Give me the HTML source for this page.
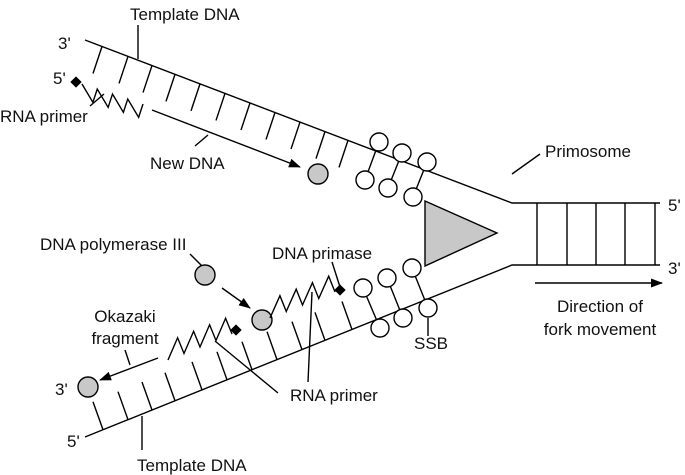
<!DOCTYPE html>
<html><head><meta charset="utf-8"><style>
body{margin:0;background:#fff}
svg{display:block}
text{font-family:"Liberation Sans",sans-serif;font-size:17px;fill:#111}
</style></head><body>
<svg id="s" width="685" height="475" viewBox="0 0 685 475" xmlns="http://www.w3.org/2000/svg">
<defs><marker id="ar" markerWidth="12" markerHeight="9" refX="11" refY="4.5" orient="auto" markerUnits="userSpaceOnUse"><path d="M0,0 L12,4.5 L0,9 z" fill="#000"/></marker></defs>
<g stroke="#000" stroke-width="1.4" fill="none" id="g">
<polyline points="85,40 512,203 660,203"/>
<polyline points="85,437 512,265 660,265"/>
<line x1="537" y1="203" x2="537" y2="265"/><line x1="567" y1="203" x2="567" y2="265"/><line x1="596" y1="203" x2="596" y2="265"/><line x1="625" y1="203" x2="625" y2="265"/><line x1="655" y1="203" x2="655" y2="265"/>
<polygon points="425,201 497,233 425,266" fill="#c8c8c8"/>
<line x1="138" y1="25" x2="138" y2="59"/>
<line x1="142" y1="416" x2="142" y2="450"/>
<line x1="152" y1="110" x2="300" y2="167" marker-end="url(#ar)"/>
<line x1="195" y1="146" x2="208" y2="135"/>
<line x1="90" y1="106" x2="104" y2="94"/>
<line x1="190" y1="254" x2="202" y2="266"/>
<line x1="222" y1="288" x2="250" y2="308" marker-end="url(#ar)"/>
<line x1="332" y1="262" x2="340" y2="287"/>
<line x1="158" y1="358" x2="100" y2="380" marker-end="url(#ar)"/>
<line x1="125" y1="350" x2="130" y2="365"/>
<line x1="215" y1="341" x2="278" y2="393"/>
<line x1="312" y1="292" x2="308" y2="382"/>
<line x1="428" y1="318" x2="428" y2="336"/>
<line x1="535" y1="283" x2="662" y2="283" marker-end="url(#ar)"/>
<line x1="512" y1="174" x2="540" y2="154"/>
<line x1="379" y1="142" x2="365" y2="180"/><line x1="402" y1="153" x2="388" y2="188"/><line x1="427" y1="162" x2="413" y2="197"/>
<line x1="363" y1="288" x2="380" y2="328"/><line x1="387" y1="278" x2="403" y2="318"/><line x1="412" y1="268" x2="428" y2="308"/>
<g fill="#fff">
<circle cx="379" cy="142" r="9"/><circle cx="402" cy="153" r="9"/><circle cx="427" cy="162" r="9"/>
<circle cx="365" cy="180" r="9"/><circle cx="388" cy="188" r="9"/><circle cx="413" cy="197" r="9"/>
<circle cx="363" cy="288" r="9"/><circle cx="387" cy="278" r="9"/><circle cx="412" cy="268" r="9"/>
<circle cx="380" cy="328" r="9"/><circle cx="403" cy="318" r="9"/><circle cx="428" cy="308" r="9"/>
</g>
<g fill="#c8c8c8">
<circle cx="318" cy="174" r="10"/><circle cx="205" cy="275" r="10"/><circle cx="262" cy="320" r="10"/><circle cx="88" cy="387" r="10"/>
</g>
</g>
<g fill="#000">
<rect x="72" y="78" width="8" height="8" transform="rotate(45 76 82)"/>
<rect x="336" y="286" width="8" height="8" transform="rotate(45 340 290)"/>
<rect x="232" y="326" width="8" height="8" transform="rotate(45 236 330)"/>
</g>
<text x="130" y="20">Template DNA</text>
<text x="58" y="49">3'</text>
<text x="53" y="84">5'</text>
<text x="0" y="122">RNA primer</text>
<text x="150" y="169">New DNA</text>
<text x="40" y="250">DNA polymerase III</text>
<text x="272" y="259">DNA primase</text>
<text x="125" y="322" text-anchor="middle">Okazaki</text>
<text x="125" y="344" text-anchor="middle">fragment</text>
<text x="55" y="395">3'</text>
<text x="67" y="447">5'</text>
<text x="290" y="401">RNA primer</text>
<text x="137" y="471">Template DNA</text>
<text x="414" y="349">SSB</text>
<text x="545" y="157">Primosome</text>
<text x="668" y="211">5'</text>
<text x="668" y="274">3'</text>
<text x="600" y="312" text-anchor="middle">Direction of</text>
<text x="600" y="335" text-anchor="middle">fork movement</text>
</svg>
<script>
var g=document.getElementById('g'),NS='http://www.w3.org/2000/svg';
function L(a,b,c,d){var l=document.createElementNS(NS,'line');l.setAttribute('x1',a);l.setAttribute('y1',b);l.setAttribute('x2',c);l.setAttribute('y2',d);g.insertBefore(l,g.firstChild);}
[102,128,152,175,200,225,250,275,300,325,348].forEach(function(x){var y=40+(x-85)*0.3817;L(x,y,x-9,y+27);});
[103,128,152,175,202,227,252,277,302,325,352].forEach(function(x){var y=437-(x-85)*0.4028;L(x,y,x-10,y-28);});
function Z(ax,ay,bx,by,n,amp){var dx=bx-ax,dy=by-ay,len=Math.hypot(dx,dy),px=dy/len,py=-dx/len;if(py>0){px=-px;py=-py;}
var p=[];for(var i=0;i<=n;i++){var t=i/n,x=ax+dx*t,y=ay+dy*t;p.push(x+','+y);
if(i<n){p.push((x+dx/n)+px*amp+','+(y+dy/n+py*amp));}}
var pl=document.createElementNS(NS,'polyline');pl.setAttribute('points',p.join(' '));g.appendChild(pl);}
Z(82,84,143,104,4,-14);
Z(270,318,335,292,4,17);
Z(168,360,232,334,4,17);
</script>
</body></html>
